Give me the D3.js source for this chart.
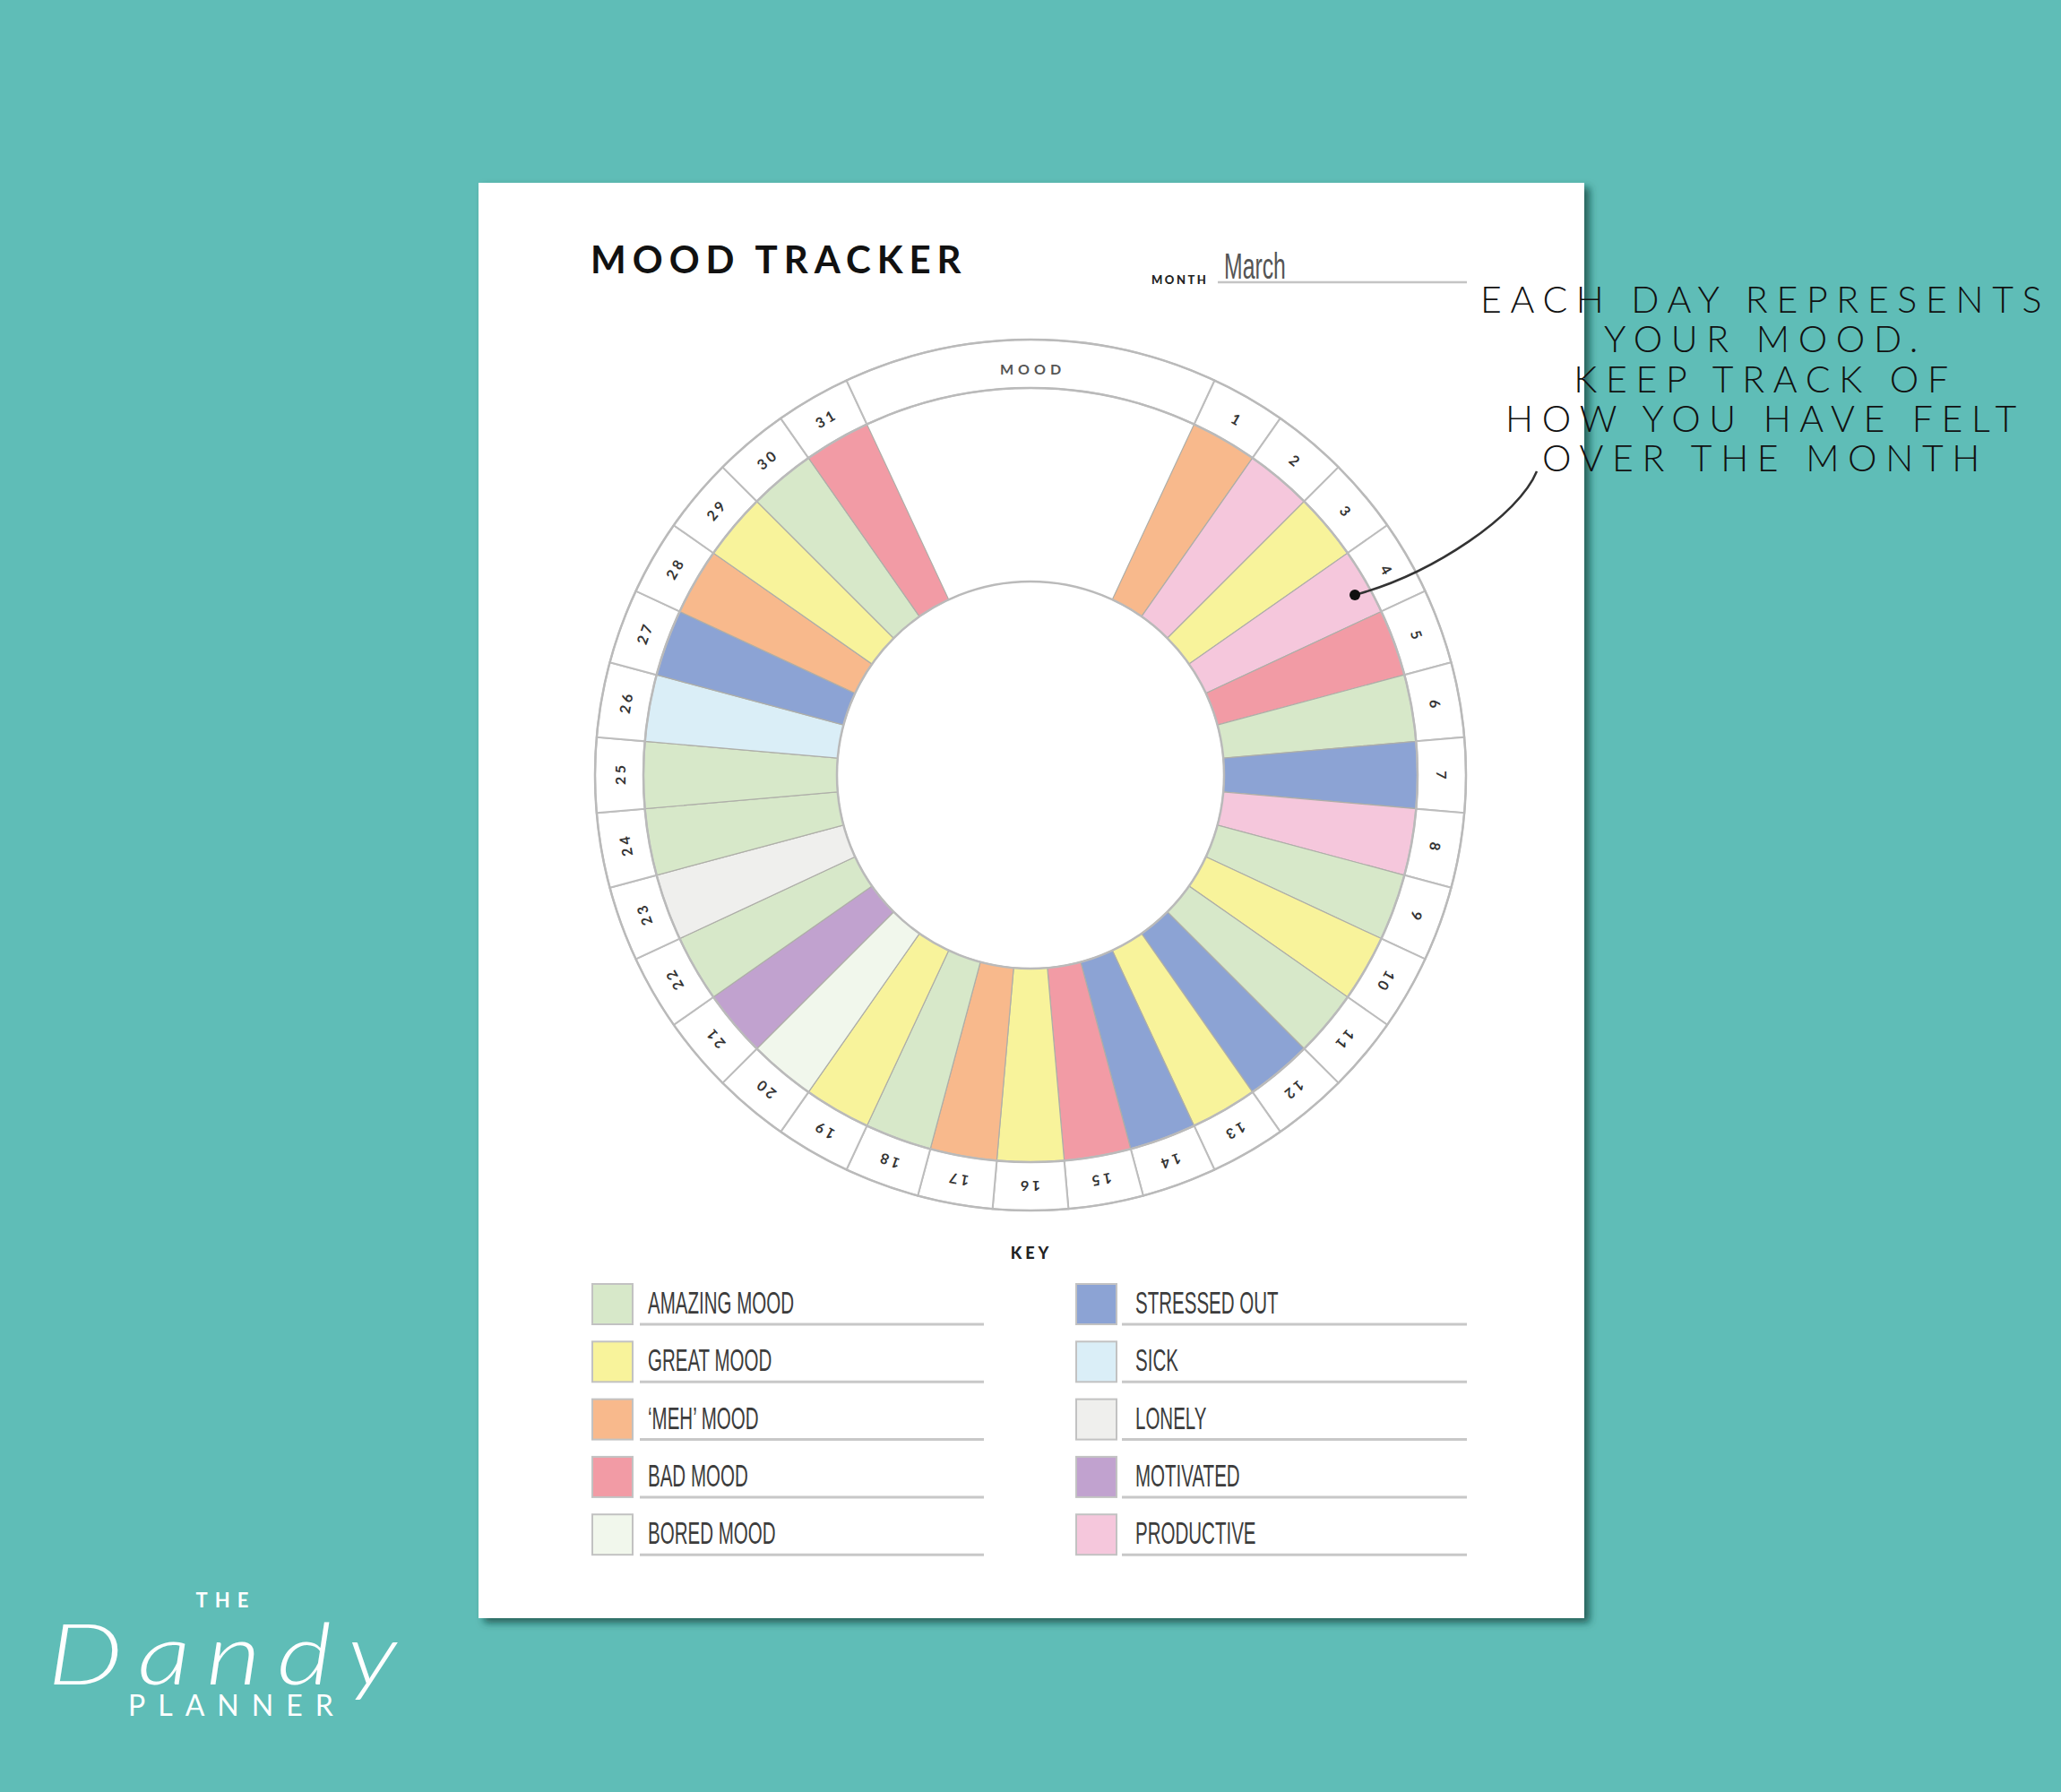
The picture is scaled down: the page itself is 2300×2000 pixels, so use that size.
<!DOCTYPE html>
<html>
<head>
<meta charset="utf-8">
<script src="https://cdn.jsdelivr.net/npm/d3@7"></script>
<style>
  html, body { margin: 0; padding: 0; background: #5fbdb7; }
  svg { display: block; }
</style>
</head>
<body>
<svg id="chart" width="2300" height="2000"></svg>
<script>
// ---------------- DATA ----------------
const days = [1,2,3,4,5,6,7,8,9,10,11,12,13,14,15,16,17,18,19,20,21,22,23,24,25,26,27,28,29,30,31];
const dayMoods = [
  "meh","productive","great","productive","bad","amazing","stressed","productive","amazing","great",
  "amazing","stressed","great","stressed","bad","great","meh","amazing","great","bored",
  "motivated","amazing","lonely","amazing","amazing","sick","stressed","meh","great","amazing","bad"
];
const moodKeys   = ["amazing","great","meh","bad","bored","stressed","sick","lonely","motivated","productive"];
const moodLabels = ["AMAZING MOOD","GREAT MOOD","\u2018MEH\u2019 MOOD","BAD MOOD","BORED MOOD",
                    "STRESSED OUT","SICK","LONELY","MOTIVATED","PRODUCTIVE"];
const moodColors = ["#d7e8c9","#f8f39b","#f8b98c","#f29ba5","#f1f7ec",
                    "#8ca3d4","#daeef7","#efefed","#c1a2cf","#f5c7dc"];
const titleText = "MOOD TRACKER";
const monthLabel = "MONTH";
const monthValue = "March";
const ringLabel = "MOOD";
const keyLabel = "KEY";
const noteLines = ["EACH DAY REPRESENTS","YOUR MOOD.","KEEP TRACK OF","HOW YOU HAVE FELT","OVER THE MONTH"];

// ---------------- DRAW ----------------
const svg = d3.select("#chart");
const defs = svg.append("defs");
const f = defs.append("filter").attr("id","shadow").attr("x","-5%").attr("y","-5%").attr("width","115%").attr("height","115%");
f.append("feDropShadow").attr("dx",6).attr("dy",5).attr("stdDeviation",4)
  .attr("flood-color","#123f3b").attr("flood-opacity",0.75);

svg.append("rect").attr("width",2300).attr("height",2000).attr("fill","#5fbdb7");

// paper
svg.append("rect").attr("x",534).attr("y",204).attr("width",1234).attr("height",1602)
  .attr("fill","#ffffff").attr("filter","url(#shadow)");

// title
svg.append("text").attr("x",659).attr("y",305)
  .attr("font-family","Lato, 'Open Sans', sans-serif").attr("font-weight",700)
  .attr("font-size",42).attr("letter-spacing",7).attr("fill","#111")
  .text(titleText);

// month
svg.append("text").attr("x",1285).attr("y",317)
  .attr("font-family","Lato, sans-serif").attr("font-weight",900)
  .attr("font-size",13).attr("letter-spacing",2.5).attr("fill","#222")
  .text(monthLabel);
svg.append("line").attr("x1",1359).attr("x2",1637).attr("y1",315).attr("y2",315)
  .attr("stroke","#c4c4c4").attr("stroke-width",2.5);
svg.append("text").attr("transform","translate(1366,311) scale(0.62,1)")
  .attr("font-family","'Liberation Sans', Arial, sans-serif")
  .attr("font-size",40).attr("fill","#555")
  .text(monthValue);

// wheel
const cx = 1150, cy = 865;
const rInner = 216, rMid = 432, rOuter = 486, rLabel = 459;
const gap = 25 * Math.PI / 180;
const angle = d3.scaleLinear().domain([0, days.length]).range([gap, 2*Math.PI - gap]);
const color = d3.scaleOrdinal().domain(moodKeys).range(moodColors);

const g = svg.append("g").attr("transform", `translate(${cx},${cy})`);

const barArc = d3.arc().innerRadius(rInner).outerRadius(rMid)
  .startAngle((d,i) => angle(i)).endAngle((d,i) => angle(i+1));
const ringArc = d3.arc().innerRadius(rMid).outerRadius(rOuter)
  .startAngle((d,i) => angle(i)).endAngle((d,i) => angle(i+1));

g.selectAll("path.bar").data(days).join("path").attr("class","bar")
  .attr("d", barArc)
  .attr("fill", (d,i) => color(dayMoods[i]))
  .attr("stroke","#aeaea8").attr("stroke-width",1.2);

g.selectAll("path.cell").data(days).join("path").attr("class","cell")
  .attr("d", ringArc)
  .attr("fill","#fff").attr("stroke","#bdbdbd").attr("stroke-width",2);

g.append("path")
  .attr("d", d3.arc().innerRadius(rMid).outerRadius(rOuter).startAngle(-gap).endAngle(gap)())
  .attr("fill","#fff").attr("stroke","#bdbdbd").attr("stroke-width",2);

[rInner, rMid, rOuter].forEach(r => {
  g.append("circle").attr("r", r).attr("fill","none").attr("stroke","#bababa").attr("stroke-width",2.5);
});

g.selectAll("text.day").data(days).join("text").attr("class","day")
  .attr("transform", (d,i) => {
    const a = (angle(i) + angle(i+1)) / 2;
    const x = rLabel * Math.sin(a), y = -rLabel * Math.cos(a);
    return `translate(${x},${y}) rotate(${a * 180 / Math.PI})`;
  })
  .attr("text-anchor","middle").attr("dominant-baseline","central")
  .attr("font-family","Lato, sans-serif").attr("font-weight",700)
  .attr("font-size",16).attr("letter-spacing",3.5).attr("fill","#333")
  .attr("dx",1.75)
  .text(d => d);

g.append("text").attr("x",2.5).attr("y",-rLabel + 5)
  .attr("text-anchor","middle").attr("dominant-baseline","central")
  .attr("font-family","Lato, sans-serif").attr("font-weight",700)
  .attr("font-size",16).attr("letter-spacing",5).attr("fill","#555")
  .text(ringLabel);

// key
svg.append("text").attr("x",1151).attr("y",1405).attr("text-anchor","middle")
  .attr("font-family","Lato, sans-serif").attr("font-weight",900)
  .attr("font-size",18).attr("letter-spacing",4).attr("fill","#222")
  .text(keyLabel);

const rowStep = 64.3, rowTop = 1433;
const cols = [{sx:661, tx:723, lx1:714, lx2:1098}, {sx:1201, tx:1267, lx1:1252, lx2:1637}];
const legend = svg.append("g");
moodKeys.forEach((k, i) => {
  const c = cols[Math.floor(i / 5)];
  const y = rowTop + (i % 5) * rowStep;
  legend.append("rect").attr("x", c.sx).attr("y", y).attr("width",45).attr("height",45)
    .attr("fill", color(k)).attr("stroke","#c2c2c2").attr("stroke-width",2);
  legend.append("line").attr("x1", c.lx1).attr("x2", c.lx2).attr("y1", y + 45).attr("y2", y + 45)
    .attr("stroke","#c8c8c8").attr("stroke-width",3);
  legend.append("text").attr("transform", `translate(${c.tx},${y + 33}) scale(0.57,1)`)
    .attr("font-family","'Liberation Sans', Arial, sans-serif")
    .attr("font-size",36).attr("fill","#3c3c3c")
    .text(moodLabels[i]);
});

// annotation
const note = svg.append("g");
noteLines.forEach((t, i) => {
  note.append("text").attr("x",1970).attr("y",349 + i * 44.3).attr("text-anchor","middle")
    .attr("font-family","Lato, sans-serif").attr("font-weight",300)
    .attr("font-size",41).attr("letter-spacing",9.7).attr("fill","#111")
    .text(t);
});
note.append("path").attr("d","M1715,526 C1695,575 1600,640 1512,664")
  .attr("fill","none").attr("stroke","#333").attr("stroke-width",2.5);
note.append("circle").attr("cx",1512).attr("cy",664).attr("r",6).attr("fill","#111");

// logo
const logo = svg.append("g").attr("fill","#fff").attr("font-family","Lato, sans-serif");
logo.append("text").attr("x",252).attr("y",1794).attr("text-anchor","middle")
  .attr("font-weight",700).attr("font-size",22).attr("letter-spacing",8).text("THE");
logo.append("text").attr("transform","translate(53,1880) scale(1.25,1)")
  .attr("font-style","italic").attr("font-weight",300).attr("font-size",95).attr("letter-spacing",14)
  .text("Dandy");
logo.append("text").attr("x",143).attr("y",1915)
  .attr("font-weight",400).attr("font-size",32).attr("letter-spacing",14).text("PLANNER");
</script>
</body>
</html>
